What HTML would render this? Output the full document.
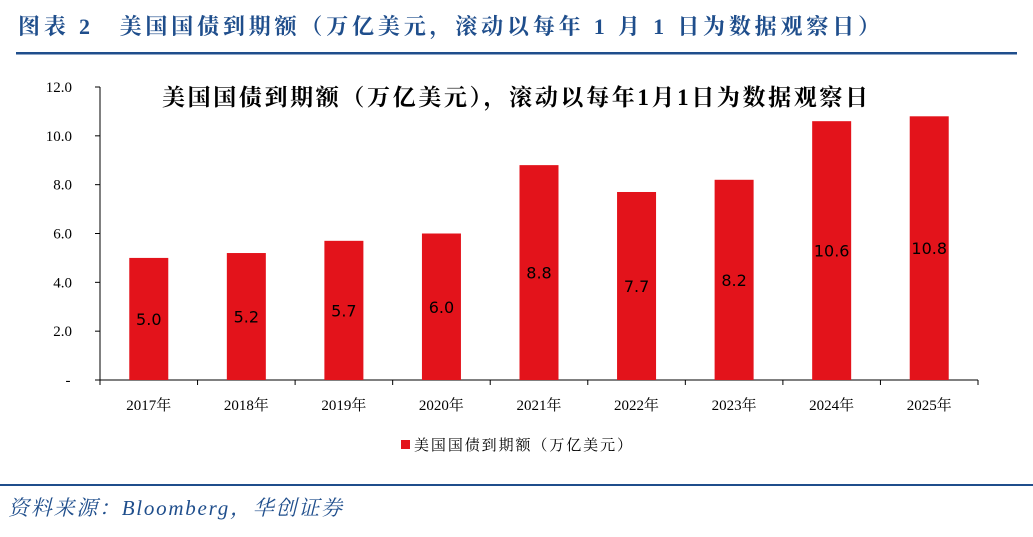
<!DOCTYPE html>
<html><head><meta charset="utf-8"><style>
body{margin:0;width:1033px;height:532px;background:#fff;overflow:hidden;font-family:"Liberation Serif","Noto Serif CJK SC",serif;}
</style></head><body>
<svg width="1033" height="532" xmlns="http://www.w3.org/2000/svg">
<text x="18" y="34" font-size="22" font-weight="bold" fill="#1f4e8c" textLength="862" lengthAdjust="spacing" font-family="Liberation Serif,Noto Serif CJK SC,serif">图表 2　美国国债到期额（万亿美元，滚动以每年 1 月 1 日为数据观察日）</text>
<rect x="16" y="52" width="1001" height="2.5" fill="#1f4e8c"/>
<text x="162" y="105" font-size="23" font-weight="bold" textLength="706" lengthAdjust="spacing" fill="#000" font-family="Liberation Serif,Noto Serif CJK SC,serif">美国国债到期额（万亿美元），滚动以每年1月1日为数据观察日</text>
<g id="yaxis"></g>
<g id="xaxis"></g>
<g id="bars"></g>
<rect x="401" y="440" width="9" height="9" fill="#e3131b"/>
<text x="414" y="450" font-size="15" textLength="218" lengthAdjust="spacing" font-family="Liberation Serif,Noto Serif CJK SC,serif">美国国债到期额（万亿美元）</text>
<rect x="0" y="484" width="1033" height="2" fill="#1f4e8c"/>
<text x="8" y="515" font-size="21" font-style="italic" fill="#1f4e8c" textLength="334" lengthAdjust="spacing" font-family="Liberation Serif,Noto Serif CJK SC,serif">资料来源：Bloomberg，华创证券</text>
</svg>
<script>
const categories=["2017年","2018年","2019年","2020年","2021年","2022年","2023年","2024年","2025年"];
const values=[5.0,5.2,5.7,6.0,8.8,7.7,8.2,10.6,10.8];
const labels=["5.0","5.2","5.7","6.0","8.8","7.7","8.2","10.6","10.8"];
const yTicks=[0,2,4,6,8,10,12];
const yTickLabels=["-","2.0","4.0","6.0","8.0","10.0","12.0"];
const NS="http://www.w3.org/2000/svg";
const x0=100,x1=978,y0=380,yTop=87,yMax=12;
const y=v=>y0-(v/yMax)*(y0-yTop);
const step=(x1-x0)/categories.length;
const xc=i=>x0+step*(i+0.5);
function mk(tag,attrs,parent){const e=document.createElementNS(NS,tag);for(const k in attrs)e.setAttribute(k,attrs[k]);parent.appendChild(e);return e;}
const ya=document.getElementById('yaxis'),xa=document.getElementById('xaxis'),bg=document.getElementById('bars');
let l=mk('line',{x1:x0,y1:yTop,x2:x0,y2:y0,stroke:'#000','stroke-width':1},ya);


yTicks.forEach((t,i)=>{
 const tk=mk('line',{x1:x0-5,y1:y(t),x2:x0,y2:y(t),stroke:'#000'},ya);
 
 
 const tx=mk('text',{x:x0-28,y:y(t)+5,'font-size':15,'text-anchor':i===0?'middle':'end'},ya);
 if(i===0)tx.setAttribute('x',x0-32);
 tx.textContent=yTickLabels[i];
 
 
});
l=mk('line',{x1:x0,y1:y0,x2:x1,y2:y0,stroke:'#000','stroke-width':1},xa);


for(let i=0;i<=categories.length;i++){
 const tk=mk('line',{x1:x0+step*i,y1:y0,x2:x0+step*i,y2:y0+5,stroke:'#000'},xa);
 
 
}
const bw=39;
categories.forEach((c,i)=>{
 const tx=mk('text',{x:xc(i),y:y0+30,'font-size':15,'text-anchor':'middle'},xa);
 tx.textContent=c;
 
 
 const r=mk('rect',{x:xc(i)-bw/2,y:y(values[i]),width:bw,height:y0-y(values[i]),fill:'#e3131b'},bg);
 
 
 const lb=mk('text',{x:xc(i),y:(y(values[i])+y0)/2+6,'font-size':16,'text-anchor':'middle',fill:'#000','font-family':'DejaVu Sans,sans-serif'},bg);
 lb.textContent=labels[i];
 
 
});
</script>
</body></html>
